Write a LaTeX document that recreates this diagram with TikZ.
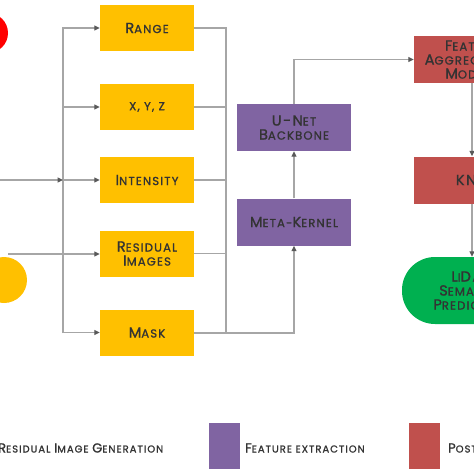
\documentclass[tikz,border=0pt]{standalone}
\usepackage{fontspec}
\setmainfont{Poppins}
\newfontfamily\wide{Poppins}[LetterSpace=10,FakeBold=1.2]
\usetikzlibrary{arrows.meta}
\definecolor{yel}{HTML}{FFC000}
\definecolor{pur}{HTML}{8064A2}
\definecolor{rd}{HTML}{C0504D}
\definecolor{grn}{HTML}{00B050}
\definecolor{ln}{HTML}{A6A6A6}
\definecolor{tip}{HTML}{595959}
\definecolor{txt}{HTML}{333333}
\newcommand\Cp[1]{{\fontsize{14.6}{14}\selectfont #1}}
\newcommand\Cl[1]{{\fontsize{13}{14}\selectfont #1}}
\tikzset{
  box/.style={rectangle, inner sep=0pt, text=txt, align=center,
    font=\wide\fontsize{11.6}{14}\selectfont},
  ybox/.style={box, fill=yel, minimum width=94pt, minimum height=46pt},
  pbox/.style={box, fill=pur, minimum width=114pt, minimum height=47pt},
  rbox/.style={box, fill=rd, minimum width=116pt, minimum height=47pt},
  gbox/.style={box, fill=grn, minimum width=140pt, minimum height=67pt, rounded corners=33pt},
  wire/.style={draw=ln, line width=1.1pt},
  arr/.style={wire, -{Triangle[length=5.5pt,width=5pt,color=tip]}},
  legtext/.style={text=txt, inner sep=0pt, font=\wide\fontsize{10}{12}\selectfont},
  legsq/.style={rectangle, inner sep=0pt, minimum width=31pt, minimum height=46pt}
}
\begin{document}
\begin{tikzpicture}[x=1pt,y=-1pt]
\useasboundingbox (0,0) rectangle (474,474);
\clip (0,0) rectangle (474,474);
\fill[white] (0,0) rectangle (474,474);
% partial circles on the left
\fill[red] (-12,33) circle (20);
\fill[yel] (4,280) circle (23);
% yellow boxes
\node[ybox] (range) at (147,28) {\Cp{R}ANGE};
\node[ybox] (xyz) at (147,107) {X, Y, Z};
\node[ybox] (inten) at (147,180) {\Cp{I}NTENSITY};
\node[ybox] (resid) at (147,253.5) {\Cp{R}ESIDUAL\\\Cp{I}MAGES};
\node[ybox] (mask) at (147,332.5) {\Cp{M}ASK};
% purple boxes
\node[pbox] (unet) at (294,127.5) {\Cp{U-N}ET\\\Cp{B}ACKBONE};
\node[pbox] (meta) at (294,222) {\Cp{M}ETA-\Cp{K}ERNEL};
% red boxes
\node[rbox] (feat) at (472,59.5) {\Cp{F}EATURE\\\Cp{A}GGREGATION\\\Cp{M}ODULE};
\node[rbox] (knn) at (472,180) {\Cp{KNN}};
% green
\node[gbox] (lidar) at (472,290.5) {\Cp{L}I\Cp{DAR}\\\Cp{S}EMANTIC\\\Cp{P}REDICTION};
% coordinates
\coordinate (lt) at (63,28);
\coordinate (lb) at (63,333);
\coordinate (rt) at (226,28);
\coordinate (rb) at (226,333);
\coordinate (in1) at (0,180);
\coordinate (in2) at (8,254);
% left distribution
\draw[arr] (lb) -- (lt) -- (range.west);
\draw[arr] (lt |- xyz.west) -- (xyz.west);
\draw[arr] (lt |- inten.west) -- (inten.west);
\draw[arr] (lt |- mask.west) -- (mask.west);
\draw[arr] (in1) -- (lt |- in1);
\draw[arr] (in2) -- (resid.west |- in2);
% right collection
\draw[wire] (range.east) -- (rt) -- (rb);
\draw[wire] (xyz.east) -- (rt |- xyz.east);
\draw[wire] (inten.east) -- (rt |- inten.east);
\draw[wire] (resid.east) -- (rt |- resid.east);
\draw[arr] (mask.east |- rb) -- (rb -| meta.south) -- (meta.south);
\draw[arr] (meta.north) -- (unet.south);
\draw[arr] (unet.north) -- (unet.north |- feat.west) -- (feat.west);
\draw[arr] (feat.south) -- (knn.north);
\draw[arr] (knn.south) -- (lidar.north);
% legend
\node[legtext, anchor=base west] (l1) at (-2,452.5) {\Cl{R}ESIDUAL \Cl{I}MAGE \Cl{G}ENERATION};
\node[legsq, fill=pur] (s2) at (224.5,446) {};
\node[legtext, anchor=base west] (l2) at (245,452.5) {\Cl{F}EATURE EXTRACTION};
\node[legsq, fill=rd] (s3) at (424.5,446) {};
\node[legtext, anchor=base west] (l3) at (448,452.5) {\Cl{P}OST PROCESSING};
\end{tikzpicture}
\end{document}
